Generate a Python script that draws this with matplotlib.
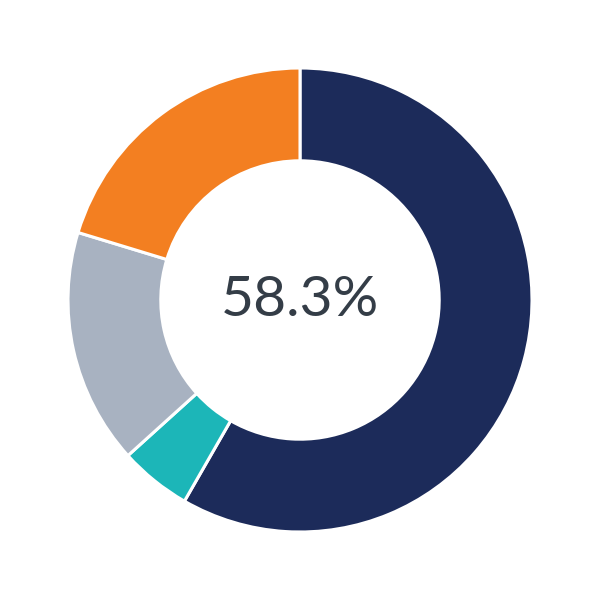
import matplotlib.pyplot as plt

labels = ["Navy", "Teal", "Gray", "Orange"]
values = [58.3, 5.0, 16.4, 20.3]
colors = ["#1c2b5a", "#1cb6b8", "#a8b2c1", "#f37f21"]
center_text = "58.3%"

fig = plt.figure(figsize=(6, 6), dpi=100)
ax = fig.add_axes([0, 0, 1, 1])

ax.pie(values, colors=colors, startangle=90, counterclock=False,
       radius=1.0, wedgeprops=dict(width=0.4, edgecolor="white", linewidth=2.2))

ax.text(0, 0, center_text, ha="center", va="center", fontsize=41,
        family=["Lato", "DejaVu Sans"], color="#343d47")

lim = 300 / 232
ax.set_xlim(-lim, lim)
ax.set_ylim(-lim, lim)
ax.set_aspect("equal")
ax.axis("off")

fig.savefig("out.png", dpi=100, facecolor="white")
